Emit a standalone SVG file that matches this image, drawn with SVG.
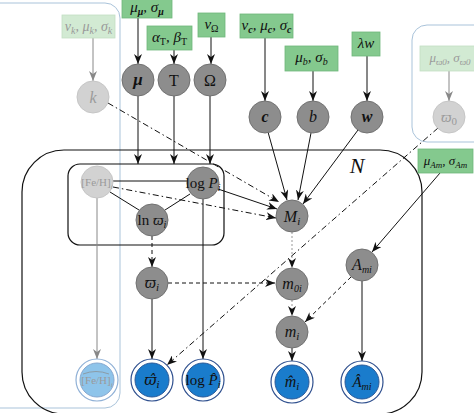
<svg xmlns="http://www.w3.org/2000/svg" width="474" height="413" viewBox="0 0 474 413">
<defs>
<marker id="ah" markerUnits="userSpaceOnUse" markerWidth="10" markerHeight="8" refX="10" refY="4" orient="auto"><path d="M0,0 L10,4 L0,8 L3,4 z" fill="#111"/></marker>
<marker id="ahg" markerUnits="userSpaceOnUse" markerWidth="10" markerHeight="8" refX="10" refY="4" orient="auto"><path d="M0,0 L10,4 L0,8 L3,4 z" fill="#888"/></marker>
</defs>
<style>
text{font-family:"Liberation Serif","DejaVu Serif",serif;text-anchor:middle;fill:#111}
.it{font-style:italic}
.bx{fill:#84c98e;stroke:#6fb77a;stroke-width:0.8}
.bxl{fill:#d2ead3;stroke:#c2dfc4;stroke-width:0.8}
.tl{fill:#9a9a9a}
.nd{fill:#8d8d8d;stroke:#727272;stroke-width:1}
.ndl{fill:#d2d2d2;stroke:#c6c6c6;stroke-width:1}
.ob1{fill:#fff;stroke:#2e4f8e;stroke-width:1.2}
.ob2{fill:#1a7ccc;stroke:#2a5a9a;stroke-width:1}
.obl1{fill:#fff;stroke:#8fb0d6;stroke-width:1.2}
.obl2{fill:#8ec4ea;stroke:#86a8d0;stroke-width:1}
.e{stroke:#111;stroke-width:1;fill:none}
.eg{stroke:#888;stroke-width:1;fill:none}
.da{stroke-dasharray:4,3}
.dd{stroke-dasharray:6,3,1.5,3}
.dt{stroke:#999;stroke-dasharray:2,2}
.pl{fill:none;stroke:#a9c3da;stroke-width:1}
.pm{fill:none;stroke:#111;stroke-width:1.2}
.sb{font-size:10px}
.sn{font-size:11px}
</style>
<g id="plates">
<rect class="pl" x="-15" y="3" width="135" height="405" rx="15"/>
<rect class="pl" x="412" y="25" width="80" height="117" rx="15"/>
<rect class="pm" x="22" y="150" width="400" height="264" rx="42"/>
<rect class="pm" x="68" y="164" width="156" height="81" rx="12"/>
<text class="it" x="357" y="173" font-size="22">N</text>
</g>
<g id="connectors">
<line class="eg" x1="93" y1="38" x2="93" y2="81" marker-end="url(#ahg)"/>
<line class="e" x1="138" y1="18" x2="138" y2="64" marker-end="url(#ah)"/>
<line class="e" x1="174" y1="50" x2="174" y2="64" marker-end="url(#ah)"/>
<line class="e" x1="211" y1="37" x2="211" y2="64" marker-end="url(#ah)"/>
<line class="e" x1="265" y1="38" x2="265" y2="101" marker-end="url(#ah)"/>
<line class="e" x1="313" y1="71" x2="313" y2="101" marker-end="url(#ah)"/>
<line class="e" x1="367" y1="56" x2="367" y2="101" marker-end="url(#ah)"/>
<line class="eg" x1="449" y1="71" x2="449" y2="101" marker-end="url(#ahg)"/>
<line class="e" x1="138" y1="96" x2="138" y2="164" marker-end="url(#ah)"/>
<line class="e" x1="174" y1="96" x2="174" y2="164" marker-end="url(#ah)"/>
<line class="e" x1="210" y1="96" x2="210" y2="164" marker-end="url(#ah)"/>
<line class="e" x1="268" y1="132" x2="287" y2="200" marker-end="url(#ah)"/>
<line class="e" x1="311" y1="133" x2="298" y2="200" marker-end="url(#ah)"/>
<line class="e" x1="358" y1="130" x2="303" y2="204" marker-end="url(#ah)"/>
<line class="e" x1="218" y1="189" x2="277" y2="209" marker-end="url(#ah)"/>
<line class="e dd" x1="108" y1="103" x2="279" y2="202" marker-end="url(#ah)"/>
<line class="e dd" x1="113" y1="187" x2="276" y2="218" marker-end="url(#ah)"/>
<line class="e" x1="113" y1="181" x2="187" y2="181"/>
<line class="e" x1="110" y1="192" x2="139" y2="210"/>
<line class="e" x1="190" y1="194" x2="165" y2="210"/>
<line class="e da" x1="152" y1="236" x2="152" y2="267" marker-end="url(#ah)"/>
<line class="e da" x1="168" y1="283" x2="275" y2="283" marker-end="url(#ah)"/>
<line class="e" x1="152" y1="299" x2="152" y2="359" marker-end="url(#ah)"/>
<line class="e" x1="203" y1="199" x2="203" y2="359" marker-end="url(#ah)"/>
<line class="eg" x1="97" y1="198" x2="97" y2="359" marker-end="url(#ahg)"/>
<line class="e dt" x1="292" y1="232" x2="292" y2="268" marker-end="url(#ah)"/>
<line class="e dt" x1="292" y1="300" x2="292" y2="316" marker-end="url(#ah)"/>
<line class="e" x1="292" y1="348" x2="292" y2="361" marker-end="url(#ah)"/>
<line class="e da" x1="351" y1="277" x2="305" y2="322" marker-end="url(#ah)"/>
<line class="e" x1="362" y1="281" x2="362" y2="361" marker-end="url(#ah)"/>
<line class="e" x1="440" y1="173" x2="372" y2="252" marker-end="url(#ah)"/>
<line class="e dd" x1="438" y1="128" x2="167" y2="365" marker-end="url(#ah)"/>
</g>
<g id="box-k"><rect class="bxl" x="62" y="15" width="53" height="23"/><text class="it tl" x="88.5" y="31" font-size="14">ν<tspan class="sb" dy="3">k</tspan><tspan dy="-3">, μ</tspan><tspan class="sb" dy="3">k</tspan><tspan dy="-3">, σ</tspan><tspan class="sb" dy="3">k</tspan></text></g>
<g id="box-mu"><rect class="bx" x="122" y="-2" width="50" height="20"/><text class="it" x="147" y="12" font-size="15">μ<tspan class="sb" dy="3" font-weight="bold">μ</tspan><tspan dy="-3">, σ</tspan><tspan class="sb" dy="3" font-weight="bold">μ</tspan></text></g>
<g id="box-T"><rect class="bx" x="147" y="26" width="45" height="24"/><text class="it" x="169.5" y="42" font-size="15">α<tspan class="sb" dy="3" font-style="normal">T</tspan><tspan dy="-3">, β</tspan><tspan class="sb" dy="3" font-style="normal">T</tspan></text></g>
<g id="box-Omega"><rect class="bx" x="198" y="13" width="27" height="24"/><text class="it" x="211.5" y="29" font-size="15">ν<tspan class="sb" dy="3" font-style="normal">Ω</tspan></text></g>
<g id="box-c"><rect class="bx" x="240" y="14" width="53" height="24"/><text class="it" x="266.5" y="30" font-size="15">ν<tspan class="sb" dy="3" font-weight="bold">c</tspan><tspan dy="-3">, μ</tspan><tspan class="sb" dy="3" font-weight="bold">c</tspan><tspan dy="-3">, σ</tspan><tspan class="sb" dy="3" font-weight="bold">c</tspan></text></g>
<g id="box-b"><rect class="bx" x="285" y="46" width="53" height="25"/><text class="it" x="311.5" y="62" font-size="15">μ<tspan class="sb" dy="3">b</tspan><tspan dy="-3">, σ</tspan><tspan class="sb" dy="3">b</tspan></text></g>
<g id="box-w"><rect class="bx" x="352" y="32" width="28" height="24"/><text class="it" x="366" y="48" font-size="15">λw</text></g>
<g id="box-varpi0"><rect class="bxl" x="420" y="46" width="60" height="25"/><text class="it tl" x="450" y="62" font-size="13">μ<tspan font-size="9" dy="3">ϖ0</tspan><tspan dy="-3">, σ</tspan><tspan font-size="9" dy="3">ϖ0</tspan></text></g>
<g id="box-Am"><rect class="bx" x="418" y="149" width="55" height="24"/><text class="it" x="445.5" y="165" font-size="13">μ<tspan font-size="9" dy="3">Am</tspan><tspan dy="-3">, σ</tspan><tspan font-size="9" dy="3">Am</tspan></text></g>
<g id="node-k"><circle class="ndl" cx="93" cy="97" r="16"/><text class="it tl" x="93" y="103" font-size="16">k</text></g>
<g id="node-mu"><circle class="nd" cx="138" cy="80" r="16"/><text class="it" x="138" y="85" font-size="17" font-weight="bold">μ</text></g>
<g id="node-T"><circle class="nd" cx="174" cy="80" r="16"/><text x="174" y="86" font-size="16">T</text></g>
<g id="node-Omega"><circle class="nd" cx="210" cy="80" r="16"/><text x="210" y="86" font-size="16">Ω</text></g>
<g id="node-c"><circle class="nd" cx="265" cy="117" r="16"/><text class="it" x="265" y="122" font-size="16" font-weight="bold">c</text></g>
<g id="node-b"><circle class="nd" cx="313" cy="117" r="16"/><text class="it" x="313" y="122" font-size="16">b</text></g>
<g id="node-w"><circle class="nd" cx="367" cy="117" r="16"/><text class="it" x="367" y="122" font-size="16" font-weight="bold">w</text></g>
<g id="node-varpi0"><circle class="ndl" cx="449" cy="117" r="16"/><text class="it tl" x="449" y="122" font-size="15">ϖ<tspan class="sn" dy="3" font-style="normal">0</tspan></text></g>
<g id="node-FeH"><circle class="ndl" cx="97" cy="182" r="16"/><text class="tl" x="97" y="186" font-size="11">[Fe/H]<tspan font-size="7" dy="3" font-style="italic">i</tspan></text></g>
<g id="node-logP"><circle class="nd" cx="203" cy="183" r="16"/><text x="203" y="188" font-size="15">log <tspan font-style="italic">P</tspan><tspan class="sb" dy="3" font-style="italic">i</tspan></text></g>
<g id="node-lnvarpi"><circle class="nd" cx="152" cy="220" r="16"/><text x="152" y="225" font-size="15">ln <tspan font-style="italic">ϖ</tspan><tspan class="sb" dy="3" font-style="italic">i</tspan></text></g>
<g id="node-Mi"><circle class="nd" cx="292" cy="216" r="16"/><text class="it" x="292" y="222" font-size="16">M<tspan class="sn" dy="3">i</tspan></text></g>
<g id="node-Ami"><circle class="nd" cx="362" cy="265" r="16"/><text class="it" x="362" y="270" font-size="16">A<tspan class="sb" dy="3">mi</tspan></text></g>
<g id="node-m0i"><circle class="nd" cx="292" cy="284" r="16"/><text class="it" x="292" y="289" font-size="16">m<tspan class="sb" dy="3">0i</tspan></text></g>
<g id="node-mi"><circle class="nd" cx="292" cy="332" r="16"/><text class="it" x="292" y="337" font-size="16">m<tspan class="sn" dy="3">i</tspan></text></g>
<g id="node-varpii"><circle class="nd" cx="152" cy="283" r="16"/><text class="it" x="152" y="288" font-size="16">ϖ<tspan class="sn" dy="3">i</tspan></text></g>
<g id="obs-FeH"><circle class="obl1" cx="97" cy="380" r="21"/><circle class="obl2" cx="97" cy="380" r="17"/><path d="M83,374 Q96,369 109,374" fill="none" stroke="#8a8a8a" stroke-width="0.7"/><text class="tl" x="97" y="384" font-size="11">[Fe/H]<tspan font-size="7" dy="3" font-style="italic">i</tspan></text></g>
<g id="obs-varpi"><circle class="ob1" cx="152" cy="380" r="21"/><circle class="ob2" cx="152" cy="380" r="17"/><text class="it" x="152" y="385" font-size="15" style="font-family:'DejaVu Serif',serif">ϖ̂<tspan class="sb" dy="3">i</tspan></text></g>
<g id="obs-logP"><circle class="ob1" cx="203" cy="380" r="21"/><circle class="ob2" cx="203" cy="380" r="17"/><text x="203" y="385" font-size="15">log <tspan font-style="italic">P̂</tspan><tspan class="sb" dy="3" font-style="italic">i</tspan></text></g>
<g id="obs-m"><circle class="ob1" cx="292" cy="382" r="21"/><circle class="ob2" cx="292" cy="382" r="17"/><text class="it" x="292" y="387" font-size="16">m̂<tspan class="sn" dy="3">i</tspan></text></g>
<g id="obs-A"><circle class="ob1" cx="362" cy="382" r="21"/><circle class="ob2" cx="362" cy="382" r="17"/><text class="it" x="362" y="387" font-size="15">Â<tspan class="sb" dy="3">mi</tspan></text></g>
</svg>
